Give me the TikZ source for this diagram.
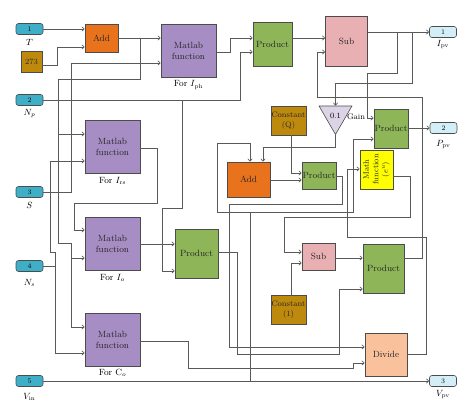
\documentclass[tikz,border=0pt]{standalone}
\usepackage{tikz}
\usetikzlibrary{arrows.meta,shapes.geometric}

\definecolor{inport}{HTML}{3FAFC8}
\definecolor{outport}{HTML}{D3EEF6}
\definecolor{addc}{HTML}{E8731C}
\definecolor{constc}{HTML}{BE8A0E}
\definecolor{matc}{HTML}{A68DC3}
\definecolor{prodc}{HTML}{8EB557}
\definecolor{subc}{HTML}{E9B0B3}
\definecolor{gainc}{HTML}{DCD3E6}
\definecolor{mathc}{HTML}{FFFF00}
\definecolor{divc}{HTML}{F9C29C}

\begin{document}
\begin{tikzpicture}[x=1pt, y=-1pt, >={Straight Barb[length=2.5pt,width=4.5pt]},
    blk/.style={draw=black!70, line width=0.6pt, inner sep=0pt, font=\small, align=center, text=black!85},
    fn/.style={blk, fill=matc, minimum width=55pt, minimum height=53pt},
    prod/.style={blk, fill=prodc},
    konst/.style={blk, fill=constc, font=\footnotesize},
    inp/.style={draw=black!70, line width=0.6pt, fill=inport, rounded corners=2.5pt, minimum width=27pt, minimum height=11pt, inner sep=0pt, font=\scriptsize},
    outp/.style={inp, fill=outport},
    lbl/.style={font=\small},
    wire/.style={draw=black!65, line width=0.6pt, ->}]
    \useasboundingbox (0,0) rectangle (474,420);

    % inputs
    \node[inp] (inT) at (29.5,29) {1};
    \node[lbl] at (29.5,42) {$T$};
    \node[konst, minimum width=21pt, minimum height=21pt] (c273) at (31.5,61.5) {273};
    \node[inp] (inNp) at (29.5,100) {2};
    \node[lbl] at (29.5,114) {$N_p$};
    \node[inp] (inS) at (29.5,192) {3};
    \node[lbl] at (29.5,205) {$S$};
    \node[inp] (inNs) at (29.5,266) {4};
    \node[lbl] at (29.5,283) {$N_s$};
    \node[inp] (inV) at (29.5,381) {5};
    \node[lbl] at (29.5,397) {$V_{\mathrm{in}}$};

    % left column
    \node[blk, fill=addc, minimum width=33pt, minimum height=28pt] (addK) at (101.5,38) {Add};
    \node[fn] (fIph) at (188.5,50.5) {Matlab\\function};
    \node[lbl] at (188.5,85) {For $I_{\mathrm{ph}}$};
    \node[fn] (fIrs) at (112.5,146.5) {Matlab\\function};
    \node[lbl] at (112.5,181) {For $I_{\mathrm{rs}}$};
    \node[fn] (fIo) at (112.5,243.5) {Matlab\\function};
    \node[lbl] at (112.5,278) {For $I_o$};
    \node[fn] (fCo) at (112.5,339.5) {Matlab\\function};
    \node[lbl] at (112.5,373) {For C$_o$};
    \node[prod, minimum width=43pt, minimum height=49pt] (prodIo) at (196.5,253.5) {Product};

    % right part
    \node[prod, minimum width=39pt, minimum height=44pt] (prodIph) at (272.5,44) {Product};
    \node[blk, fill=subc, minimum width=42pt, minimum height=50pt] (subI) at (346.5,41) {Sub};
    \node[konst, minimum width=35pt, minimum height=29pt] (constQ) at (288.5,120.5) {Constant\\(Q)};
    \node[draw=black!70, line width=0.6pt, fill=gainc, regular polygon, regular polygon sides=3, shape border rotate=180, minimum size=38pt, inner sep=0pt, font=\footnotesize] (gain) at (335.5,115.5) {0.1};
    \node[font=\footnotesize] at (356,117) {Gain};
    \node[prod, minimum width=34pt, minimum height=39pt] (prodP) at (391,128.5) {Product};
    \node[blk, fill=addc, minimum width=43pt, minimum height=35pt] (addV) at (248.5,179.5) {Add};
    \node[prod, minimum width=34pt, minimum height=27pt] (prodQ) at (319,175.5) {Product};
    \node[blk, fill=mathc, minimum width=33pt, minimum height=39pt] (mathF) at (376.5,169.5) {};
    \node[rotate=90, align=center, font=\footnotesize, text=black!85, inner sep=0pt] at (mathF) {Math\\function\\($e^u$)};
    \node[blk, fill=subc, minimum width=33pt, minimum height=27pt] (subE) at (318.5,256.5) {Sub};
    \node[prod, minimum width=41pt, minimum height=49pt] (prodN) at (383.5,268.5) {Product};
    \node[konst, minimum width=35pt, minimum height=29pt] (const1) at (288.5,309.5) {Constant\\(1)};
    \node[blk, fill=divc, minimum width=42pt, minimum height=43pt] (divV) at (386,354.5) {Divide};

    % outputs
    \node[outp] (outI) at (443,32) {1};
    \node[lbl] at (443,45) {$I_{\mathrm{pv}}$};
    \node[outp] (outP) at (443.5,128) {2};
    \node[lbl] at (443.5,145) {$P_{\mathrm{pv}}$};
    \node[outp] (outV) at (443,381) {3};
    \node[lbl] at (443,395) {$V_{\mathrm{pv}}$};

    % wires
    \draw[wire] (inT) -- (addK.west |- inT);
    \draw[wire] (c273.east |- 0,65) -- (57,65) -- (57,47) -- (addK.west |- 0,47);
    \draw[wire] (addK) -- (fIph.west |- addK);
    \draw[wire] (140,38) -- (140,79) -- (58,79) -- (58,243) -- (71,243) -- (71,327) -- (fCo.west |- 0,327);
    \draw[wire] (58,134) -- (fIrs.west |- 0,134);
    \draw[wire] (71,258) -- (fIo.west |- 0,258);
    \draw[wire] (fIph.east |- 0,52) -- (230,52) -- (230,38) -- (prodIph.west |- 0,38);
    \draw[wire] (inNp) -- (240,100) -- (240,52) -- (prodIph.west |- 0,52);
    \draw[wire] (182,100) -- (182,208) -- (162,208) -- (162,271) -- (prodIo.west |- 0,271);
    \draw[wire] (inS) -- (71,192) -- (71,63) -- (fIph.west |- 0,63);
    \draw[wire] (fIrs.east |- 0,148) -- (157,148) -- (157,203) -- (74,203) -- (74,230) -- (fIo.west |- 0,230);
    \draw[wire] (inNs) -- (55,266) -- (55,252) -- (50,252) -- (50,161) -- (fIrs.west |- 0,161);
    \draw[wire] (55,266) -- (55,353) -- (fCo.west |- 0,353);
    \draw[wire] (fIo.east |- 0,244) -- (prodIo.west |- 0,244);
    \draw[wire] (prodIo.east |- 0,252) -- (237,252) -- (237,354) -- (339,354) -- (339,289) -- (prodN.west |- 0,289);
    \draw[wire] (fCo.east |- 0,341) -- (188,341) -- (188,368) -- (353,368) -- (353,363) -- (divV.west |- 0,363);
    \draw[wire] (inV) -- (outV);
    \draw[wire, -] (250,381) -- (250,212);
    \draw[wire] (250,212) -- (217,212) -- (217,143) -- (250,143) -- (addV.north -| 250,0);
    \draw[wire] (250,212) -- (353,212) -- (353,139) -- (prodP.west |- 0,139);
    \draw[wire] (gain.south) -- (gain.south |- 0,147) -- (263,147) -- (addV.north -| 263,0);
    \draw[wire] (constQ.south -| 291,0) -- (291,173) -- (prodQ.west |- 0,173);
    \draw[wire] (addV.east |- 0,180) -- (prodQ.west |- 0,180);
    \draw[wire] (prodQ.east |- 0,176) -- (342,176) -- (342,204) -- (229,204) -- (229,347) -- (divV.west |- 0,347);
    \draw[wire] (divV.east |- 0,354) -- (426,354) -- (426,237) -- (347,237) -- (347,169) -- (mathF.west |- 0,169);
    \draw[wire] (mathF.east |- 0,176) -- (410,176) -- (410,217) -- (284,217) -- (284,252) -- (subE.west |- 0,252);
    \draw[wire] (const1.north -| 291,0) -- (291,263) -- (subE.west |- 0,263);
    \draw[wire] (subE.east |- 0,258) -- (prodN.west |- 0,258);
    \draw[wire] (prodN.east |- 0,258) -- (422,258) -- (422,97) -- (317,97) -- (317,52) -- (subI.west |- 0,52);
    \draw[wire] (prodIph.east |- 0,38) -- (subI.west |- 0,38);
    \draw[wire] (subI.east |- 0,32) -- (outI.west |- 0,32);
    \draw[wire] (397,32) -- (397,73) -- (367,73) -- (367,118) -- (prodP.west |- 0,118);
    \draw[wire] (412,32) -- (412,83) -- (gain.north |- 0,83) -- (gain.north);
    \draw[wire] (prodP.east |- 0,128) -- (outP.west |- 0,128);
\end{tikzpicture}
\end{document}
